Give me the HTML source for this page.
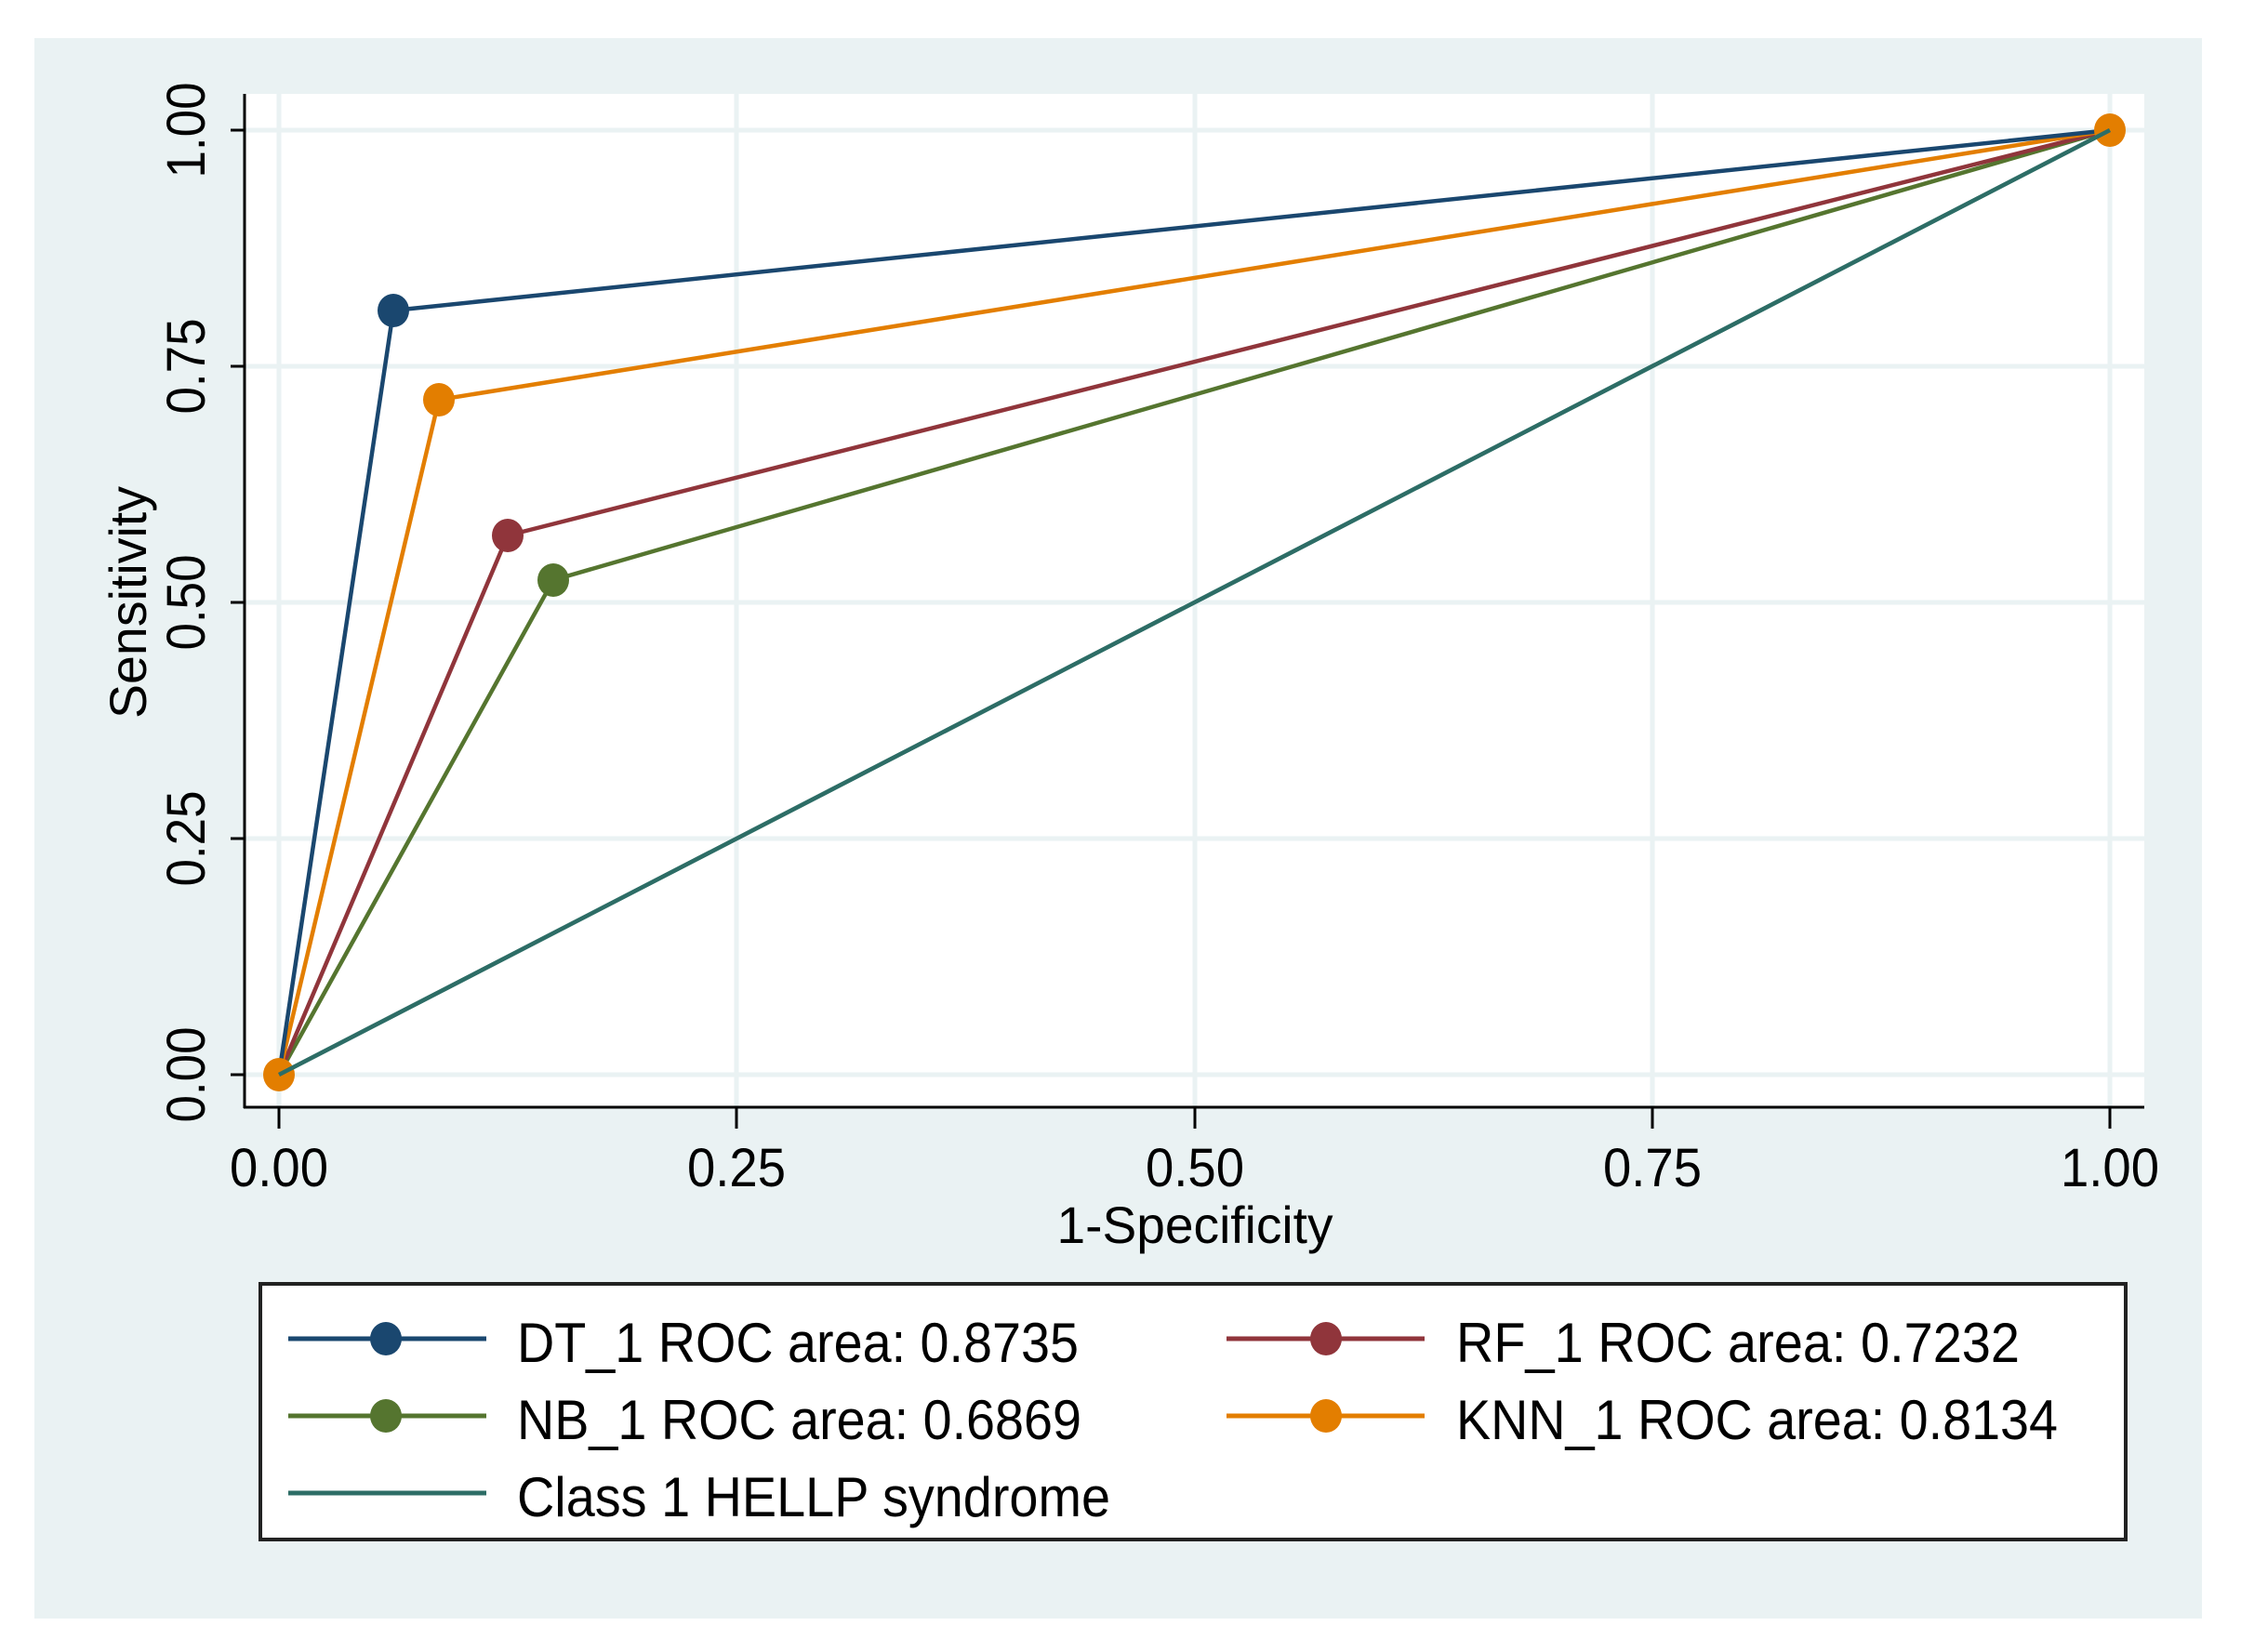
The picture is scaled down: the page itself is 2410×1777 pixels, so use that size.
<!DOCTYPE html>
<html><head><meta charset="utf-8"><style>
html,body{margin:0;padding:0;background:#fff;}
svg{display:block;}
text{font-family:"Liberation Sans",Arial,sans-serif;fill:#000;}
</style></head><body>
<svg width="2410" height="1777" viewBox="0 0 2410 1777" xmlns="http://www.w3.org/2000/svg">
<rect x="0" y="0" width="2410" height="1777" fill="#fff"/>
<rect x="37" y="41" width="2331" height="1700" fill="#eaf2f3"/>
<rect x="263" y="101" width="2043" height="1090" fill="#fff"/>
<g stroke="#eaf2f3" stroke-width="5">
<line x1="300" y1="101" x2="300" y2="1191"/>
<line x1="792" y1="101" x2="792" y2="1191"/>
<line x1="1285" y1="101" x2="1285" y2="1191"/>
<line x1="1777" y1="101" x2="1777" y2="1191"/>
<line x1="2269" y1="101" x2="2269" y2="1191"/>
<line x1="263" y1="140" x2="2306" y2="140"/>
<line x1="263" y1="394" x2="2306" y2="394"/>
<line x1="263" y1="648" x2="2306" y2="648"/>
<line x1="263" y1="902" x2="2306" y2="902"/>
<line x1="263" y1="1156" x2="2306" y2="1156"/>
</g>
<g stroke="#000" stroke-width="3" fill="none">
<line x1="263" y1="101" x2="263" y2="1192"/>
<line x1="262" y1="1191" x2="2306" y2="1191"/>
<line x1="248" y1="140" x2="263" y2="140"/>
<line x1="248" y1="394" x2="263" y2="394"/>
<line x1="248" y1="648" x2="263" y2="648"/>
<line x1="248" y1="902" x2="263" y2="902"/>
<line x1="248" y1="1156" x2="263" y2="1156"/>
<line x1="300" y1="1191" x2="300" y2="1214"/>
<line x1="792" y1="1191" x2="792" y2="1214"/>
<line x1="1285" y1="1191" x2="1285" y2="1214"/>
<line x1="1777" y1="1191" x2="1777" y2="1214"/>
<line x1="2269" y1="1191" x2="2269" y2="1214"/>
</g>
<g font-size="58" text-anchor="middle">
<text x="300" y="1276" textLength="106" lengthAdjust="spacingAndGlyphs">0.00</text>
<text x="792" y="1276" textLength="106" lengthAdjust="spacingAndGlyphs">0.25</text>
<text x="1285" y="1276" textLength="106" lengthAdjust="spacingAndGlyphs">0.50</text>
<text x="1777" y="1276" textLength="106" lengthAdjust="spacingAndGlyphs">0.75</text>
<text x="2269" y="1276" textLength="106" lengthAdjust="spacingAndGlyphs">1.00</text>
<text transform="translate(220,140) rotate(-90)" textLength="103" lengthAdjust="spacingAndGlyphs">1.00</text>
<text transform="translate(220,394) rotate(-90)" textLength="103" lengthAdjust="spacingAndGlyphs">0.75</text>
<text transform="translate(220,648) rotate(-90)" textLength="103" lengthAdjust="spacingAndGlyphs">0.50</text>
<text transform="translate(220,902) rotate(-90)" textLength="103" lengthAdjust="spacingAndGlyphs">0.25</text>
<text transform="translate(220,1156) rotate(-90)" textLength="103" lengthAdjust="spacingAndGlyphs">0.00</text>
<text x="1285" y="1337" font-size="56" textLength="297" lengthAdjust="spacingAndGlyphs">1-Specificity</text>
<text transform="translate(157,648) rotate(-90)" font-size="56" textLength="250" lengthAdjust="spacingAndGlyphs">Sensitivity</text>
</g>
<g fill="none" stroke-width="4.5" stroke-linejoin="round">
<polyline points="300,1156 2269,140" stroke="#2d6d66"/>
<polyline points="300,1156 595,624 2269,140" stroke="#55752f"/>
<polyline points="300,1156 546,576 2269,140" stroke="#90353b"/>
<polyline points="300,1156 472,430 2269,140" stroke="#e37e00"/>
<polyline points="300,1156 423,334 2269,140" stroke="#1a476f"/>
</g>
<g>
<ellipse cx="595" cy="624" rx="17" ry="18" fill="#55752f"/>
<ellipse cx="546" cy="576" rx="17" ry="18" fill="#90353b"/>
<ellipse cx="472" cy="430" rx="17" ry="18" fill="#e37e00"/>
<ellipse cx="423" cy="334" rx="17" ry="18" fill="#1a476f"/>
<ellipse cx="300" cy="1156" rx="17" ry="18" fill="#e37e00"/>
<ellipse cx="2269" cy="140" rx="17" ry="18" fill="#e37e00"/>
</g>
<line x1="300" y1="1156" x2="2269" y2="140" stroke="#2d6d66" stroke-width="4.5"/>
<rect x="280" y="1381" width="2006" height="275" fill="#fff" stroke="#222" stroke-width="4"/>
<g stroke-width="5">
<line x1="310" y1="1440" x2="523" y2="1440" stroke="#1a476f"/>
<line x1="310" y1="1523" x2="523" y2="1523" stroke="#55752f"/>
<line x1="310" y1="1606" x2="523" y2="1606" stroke="#2d6d66"/>
<line x1="1319" y1="1440" x2="1532" y2="1440" stroke="#90353b"/>
<line x1="1319" y1="1523" x2="1532" y2="1523" stroke="#e37e00"/>
</g>
<ellipse cx="415" cy="1440" rx="17" ry="18" fill="#1a476f"/>
<ellipse cx="415" cy="1523" rx="17" ry="18" fill="#55752f"/>
<ellipse cx="1426" cy="1440" rx="17" ry="18" fill="#90353b"/>
<ellipse cx="1426" cy="1523" rx="17" ry="18" fill="#e37e00"/>
<g font-size="60">
<text x="556" y="1465" textLength="604" lengthAdjust="spacingAndGlyphs">DT_1 ROC area: 0.8735</text>
<text x="556" y="1548" textLength="607" lengthAdjust="spacingAndGlyphs">NB_1 ROC area: 0.6869</text>
<text x="556" y="1631" textLength="638" lengthAdjust="spacingAndGlyphs">Class 1 HELLP syndrome</text>
<text x="1566" y="1465" textLength="606" lengthAdjust="spacingAndGlyphs">RF_1 ROC area: 0.7232</text>
<text x="1566" y="1548" textLength="647" lengthAdjust="spacingAndGlyphs">KNN_1 ROC area: 0.8134</text>
</g>
</svg>
</body></html>
